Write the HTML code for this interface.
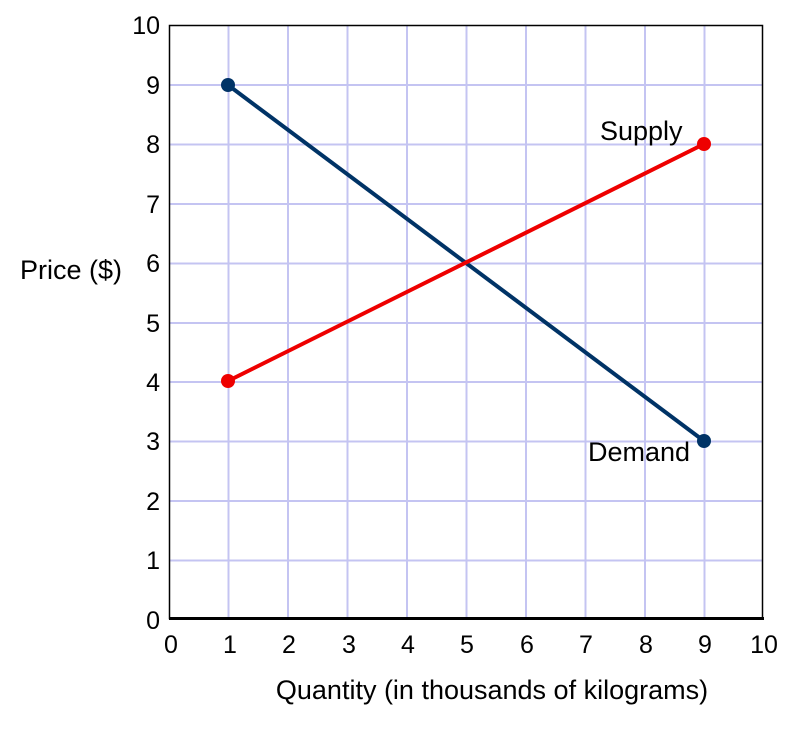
<!DOCTYPE html><html><head><style>body{margin:0;background:#fff}</style></head><body>
<svg width="799" height="725" xmlns="http://www.w3.org/2000/svg" font-family="Liberation Sans, sans-serif" font-size="25">
<g stroke="#c4c4f2" stroke-width="2">
<line x1="228.5" y1="25" x2="228.5" y2="619"/><line x1="288" y1="25" x2="288" y2="619"/><line x1="347.5" y1="25" x2="347.5" y2="619"/><line x1="407" y1="25" x2="407" y2="619"/><line x1="466.5" y1="25" x2="466.5" y2="619"/><line x1="526" y1="25" x2="526" y2="619"/><line x1="585.5" y1="25" x2="585.5" y2="619"/><line x1="645" y1="25" x2="645" y2="619"/><line x1="704.5" y1="25" x2="704.5" y2="619"/>
<line x1="169" y1="85" x2="763" y2="85"/><line x1="169" y1="144.5" x2="763" y2="144.5"/><line x1="169" y1="204" x2="763" y2="204"/><line x1="169" y1="263.5" x2="763" y2="263.5"/><line x1="169" y1="323" x2="763" y2="323"/><line x1="169" y1="382" x2="763" y2="382"/><line x1="169" y1="441.5" x2="763" y2="441.5"/><line x1="169" y1="501" x2="763" y2="501"/><line x1="169" y1="560.5" x2="763" y2="560.5"/>
</g>
<rect x="169.5" y="25.5" width="593" height="593" fill="none" stroke="#000" stroke-width="1.5"/>
<line x1="169" y1="618.5" x2="764" y2="618.5" stroke="#000" stroke-width="3"/>
<g fill="#000" text-anchor="end">
<text x="160" y="34">10</text><text x="160" y="94">9</text><text x="160" y="153">8</text><text x="160" y="213">7</text><text x="160" y="272">6</text><text x="160" y="332">5</text><text x="160" y="391">4</text><text x="160" y="450">3</text><text x="160" y="510">2</text><text x="160" y="569">1</text><text x="160" y="629">0</text>
</g>
<g fill="#000" text-anchor="middle">
<text x="171" y="653">0</text><text x="230" y="653">1</text><text x="289" y="653">2</text><text x="349" y="653">3</text><text x="408" y="653">4</text><text x="467" y="653">5</text><text x="527" y="653">6</text><text x="586" y="653">7</text><text x="646" y="653">8</text><text x="705" y="653">9</text><text x="764" y="653">10</text>
<text x="492" y="699" font-size="27">Quantity (in thousands of kilograms)</text>
</g>
<text x="20" y="279" fill="#000" font-size="27">Price ($)</text>
<line x1="228" y1="85" x2="704" y2="441" stroke="#003366" stroke-width="4"/>
<line x1="228" y1="381" x2="704" y2="144" stroke="#ee0000" stroke-width="4"/>
<circle cx="228" cy="85" r="7" fill="#003366"/><circle cx="704" cy="441" r="7" fill="#003366"/>
<circle cx="228" cy="381" r="7" fill="#ee0000"/><circle cx="704" cy="144" r="7" fill="#ee0000"/>
<text x="600" y="140" fill="#000" font-size="27">Supply</text>
<text x="588" y="461" fill="#000" font-size="27">Demand</text>
</svg></body></html>
